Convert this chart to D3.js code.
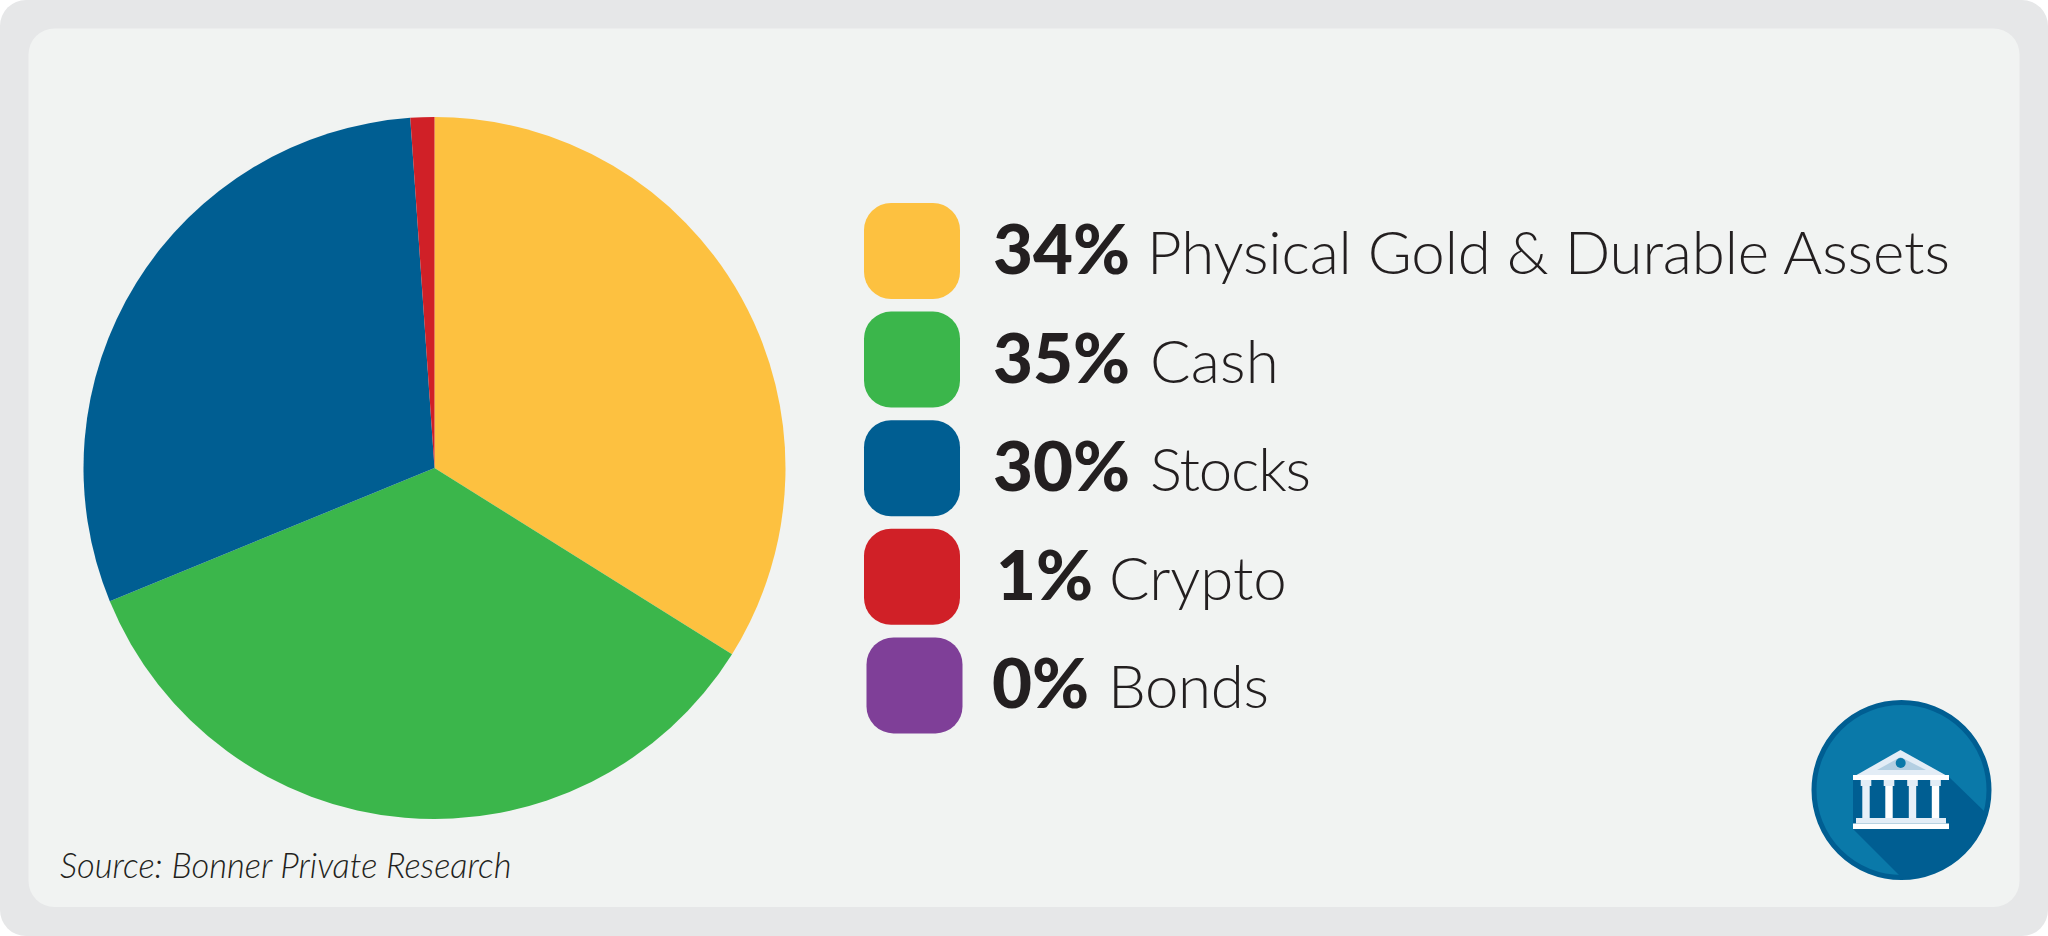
<!DOCTYPE html>
<html><head><meta charset="utf-8">
<script src="https://cdnjs.cloudflare.com/ajax/libs/d3/7.8.5/d3.min.js"></script>
<style>html,body{margin:0;padding:0;background:#fff}svg{display:block}</style>
</head><body><svg id="c" width="2048" height="936"></svg>
<script>
const categories = ["Physical Gold & Durable Assets","Cash","Stocks","Crypto","Bonds"];
const labels = [34,35,30,1,0];
const sliceShares = [33.9,34.9,30.1,1.1,0];
const colors = ["#fdc140","#3bb64b","#005e92","#d02027","#7f3f98"];
const nameSpacing = [-0.15,0.2,-1.2,-0.1,-0.4];
const sourceText = "Source: Bonner Private Research";
const F = "Lato, 'Noto Sans', sans-serif";
const svg = d3.select("#c");
svg.append("rect").attr("width",2048).attr("height",936).attr("rx",26).attr("fill","#e6e7e8");
svg.append("rect").attr("x",28.5).attr("y",28.5).attr("width",1991).attr("height",878.5).attr("rx",26).attr("fill","#f1f3f2");

const pie = d3.pie().sort(null).value(d=>d)(sliceShares);
const arc = d3.arc().innerRadius(0).outerRadius(351);
svg.append("g").attr("transform","translate(434.5,468)")
  .selectAll("path").data(pie).join("path").attr("d",arc).attr("fill",(d,i)=>colors[i]);

const y = d3.scaleBand().domain(categories).range([203,203+108.6*5]).paddingInner(0);
const pctX = [993,993,993,996,992], nameX=[1147,1150,1150,1109,1108];
const lg = svg.append("g");
categories.forEach((c,i)=>{
  const top=y(c);
  lg.append("rect").attr("x",i==4?866.5:864).attr("y",top).attr("width",96).attr("height",96).attr("rx",27).attr("fill",colors[i]);
  lg.append("text").attr("x",pctX[i]).attr("y",top+71).attr("font-family",F).attr("font-weight",900).attr("font-size",69)
    .attr("fill","#231f20").text(labels[i]+"%");
  lg.append("text").attr("x",nameX[i]).attr("y",top+71).attr("font-family",F).attr("font-weight",300).attr("font-size",60)
    .attr("letter-spacing",nameSpacing[i]).attr("fill","#231f20").text(c);
});
svg.append("text").attr("x",60).attr("y",878).attr("font-family",F).attr("font-weight",300).attr("font-style","italic")
  .attr("font-size",34.5).attr("fill","#231f20").text(sourceText);

// bank icon
const ic = svg.append("g");
const defs = svg.append("defs");
defs.append("clipPath").attr("id","ci").append("circle").attr("cx",1901.5).attr("cy",790).attr("r",88);
ic.append("circle").attr("cx",1901.5).attr("cy",790).attr("r",87.5).attr("fill","#0a79a9").attr("stroke","#005e92").attr("stroke-width",5);
ic.append("polygon").attr("clip-path","url(#ci)").attr("points","1853,780 1949,777 1985,812 2010,860 1940,900 1900,876 1853,829").attr("fill","#005e92");
const wht="#ffffff", lt="#e3edf6";
ic.append("polygon").attr("points","1900.5,750 1949,777 1853,777").attr("fill",lt);
ic.append("polygon").attr("points","1900.5,757 1926,770 1877,770").attr("fill","#b3cfe2");
ic.append("circle").attr("cx",1900.7).attr("cy",763).attr("r",5).attr("fill","#0a79a9");
ic.append("rect").attr("x",1853).attr("y",775).attr("width",96).attr("height",5).attr("fill",wht);
[1866,1889,1912.5,1935.5].forEach((x,i)=>{
  ic.append("rect").attr("x",x-3.7).attr("y",780).attr("width",7.4).attr("height",39).attr("fill",i%2?wht:"#e8f0f8");
  ic.append("rect").attr("x",x-5.3).attr("y",780).attr("width",10.6).attr("height",6).attr("fill",lt);
});
ic.append("rect").attr("x",1856).attr("y",818).attr("width",90).attr("height",5.5).attr("fill",lt);
ic.append("rect").attr("x",1853).attr("y",823.5).attr("width",96).attr("height",5.5).attr("fill",wht);
</script></body></html>
